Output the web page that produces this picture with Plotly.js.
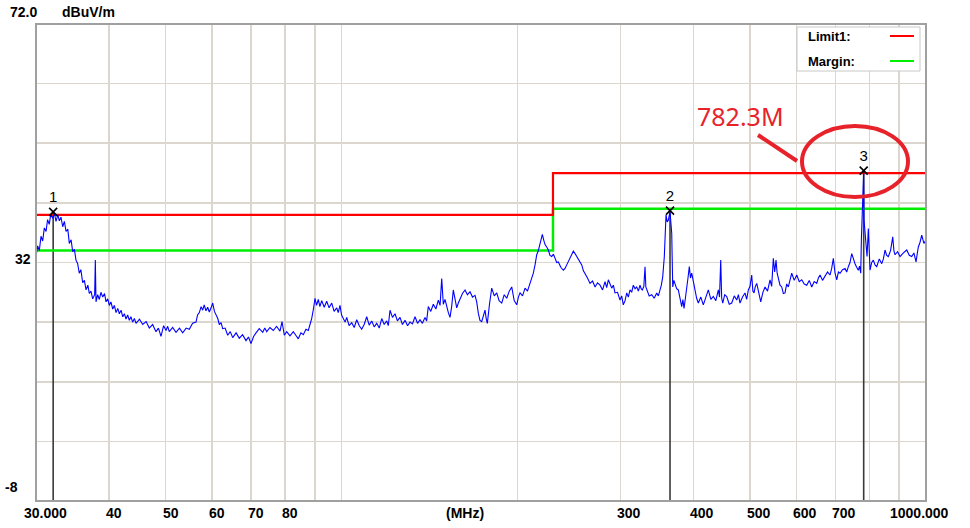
<!DOCTYPE html>
<html>
<head>
<meta charset="utf-8">
<script src="https://cdn.plot.ly/plotly-3.0.1.min.js"></script>
<style>
html,body{margin:0;padding:0;background:#fff;}
#chart{width:970px;height:528px;}
</style>
</head>
<body>
<div id="chart"></div>
<script>
// ---- data (MHz, dBuV/m) ----
const freq = [
30.00,30.20,30.39,30.60,30.80,31.00,31.21,31.40,31.61,31.80,
32.04,32.25,32.46,32.70,32.89,33.10,33.33,33.55,33.77,34.00,
34.21,34.45,34.67,34.90,35.12,35.35,35.58,35.80,36.06,36.30,
36.54,36.80,37.01,37.25,37.51,37.80,37.90,38.00,38.25,38.50,
38.75,39.02,39.30,39.53,39.80,40.05,40.30,40.59,40.85,41.12,
41.40,41.66,41.95,42.22,42.50,42.77,43.05,43.33,43.60,43.91,
44.20,44.49,45.10,45.68,46.30,46.88,47.50,48.13,48.60,49.09,
49.60,50.07,50.40,50.72,51.40,52.08,52.80,53.47,54.20,54.88,
55.60,56.35,56.70,57.09,57.50,57.86,58.20,58.61,59.00,59.38,
59.80,60.18,60.60,60.97,61.40,61.77,62.20,62.60,63.20,63.84,
64.50,65.11,66.00,66.83,67.70,68.62,69.30,69.98,70.70,71.38,
72.30,73.29,73.90,74.45,75.40,76.41,77.40,78.46,79.08,79.80,
80.56,81.60,82.68,83.50,84.32,85.20,86.00,86.90,87.71,88.30,
88.89,89.50,90.06,90.60,91.24,91.80,92.47,93.40,94.31,95.20,
96.19,97.10,98.10,98.70,99.38,100.0,100.69,101.40,102.04,103.00,
104.07,105.10,106.15,107.20,108.26,109.30,110.41,111.50,112.61,113.70,
114.85,116.00,117.13,118.30,119.46,120.20,121.03,122.20,123.44,124.60,
125.89,127.10,128.40,129.70,130.95,132.20,133.56,134.90,136.21,137.50,
138.92,139.80,140.74,142.10,143.54,145.00,146.40,147.40,148.37,149.31,
150.30,151.32,152.30,153.30,154.30,155.30,156.30,157.40,158.40,159.46,
161.00,162.64,164.20,165.87,167.50,169.17,170.30,171.38,172.50,173.69,
174.80,175.97,176.80,177.57,179.10,180.68,182.50,184.27,186.00,187.94,
189.80,191.68,193.60,195.50,197.40,199.39,200.70,202.00,204.00,206.02,
208.00,210.12,211.50,212.87,214.30,215.74,217.10,218.57,219.60,220.56,
221.70,222.92,224.40,225.83,227.30,228.87,230.40,231.87,233.40,234.91,
237.20,239.57,241.20,242.80,245.20,247.64,249.20,250.88,252.50,254.16,
255.90,257.59,259.30,260.96,263.50,266.15,268.80,271.46,274.10,276.86,
279.60,282.37,284.20,286.06,288.00,289.92,291.80,293.69,296.60,299.53,
301.50,303.44,305.50,307.54,309.50,311.57,313.60,315.64,317.80,319.90,
322.00,324.08,325.50,327.03,329.00,330.53,331.60,332.76,336.00,339.38,
342.70,346.13,348.40,350.66,352.50,354.41,356.65,359.05,360.70,362.32,
364.75,367.21,368.65,370.30,372.00,374.40,376.87,379.40,381.95,383.70,
385.43,387.50,389.56,391.50,393.56,395.40,397.30,400.00,402.50,405.10,
407.77,411.80,415.88,420.00,424.16,428.40,432.60,436.90,441.21,443.30,
445.40,447.10,448.93,452.50,456.07,460.60,465.16,469.80,474.40,477.50,
480.57,485.30,490.14,493.30,496.56,499.90,503.24,505.50,507.83,510.50,
513.27,517.30,521.44,525.90,530.35,535.60,540.89,544.40,547.98,550.90,
553.84,556.30,558.87,562.60,566.41,570.10,573.83,577.60,581.34,585.20,
589.18,595.00,600.93,606.90,612.88,619.00,625.07,631.30,637.50,643.80,
650.18,654.40,658.70,665.20,671.81,678.50,685.18,689.60,694.14,698.80,
703.50,708.10,712.71,719.80,726.89,731.60,736.38,741.30,746.32,751.20,
756.10,761.00,765.98,769.60,773.27,775.30,777.25,782.30,783.39,786.00,
788.65,792.70,796.78,799.40,802.12,807.40,812.64,818.10,823.60,831.80,
840.00,845.50,850.98,856.50,862.10,869.60,877.21,881.20,885.19,894.00,
902.80,914.80,926.90,936.10,945.37,953.40,961.51,965.90,970.28,976.80,
983.38,991.70,1000.0];
const level = [
33.0,34.8,34.0,36.4,35.6,37.8,37.2,39.2,38.4,40.1,
39.4,40.3,38.9,40.0,39.0,39.6,38.0,38.9,37.2,37.6,
35.2,35.8,33.8,34.2,32.4,31.8,30.2,30.8,28.6,29.0,
27.4,28.2,26.8,27.2,25.9,26.6,32.4,25.4,26.6,25.8,
27.0,26.2,26.8,25.4,25.9,24.8,25.4,24.2,24.8,23.6,
24.3,23.4,24.0,22.9,23.4,22.5,23.2,22.3,22.9,22.0,
22.6,21.8,22.5,21.6,22.1,21.0,21.6,20.4,21.0,19.6,
21.4,20.6,21.3,20.4,21.1,20.3,21.0,20.2,21.0,20.8,
21.8,22.0,23.2,23.6,24.6,24.0,24.9,23.9,24.5,23.7,
24.4,25.2,23.8,23.2,22.6,21.6,21.9,20.9,21.0,19.8,
20.4,19.4,20.2,19.3,19.9,18.9,19.5,18.4,19.6,20.2,
20.9,20.3,21.0,20.4,21.1,20.6,21.3,20.5,22.1,19.8,
20.4,19.7,20.4,19.8,19.2,20.2,19.9,20.8,20.6,21.6,
22.6,24.2,26.0,24.8,25.8,24.6,25.6,24.5,25.5,24.4,
25.2,23.8,24.4,23.6,24.8,23.2,22.6,22.0,22.8,21.4,
21.9,21.1,22.4,21.4,20.8,21.6,22.9,21.5,22.2,21.2,
21.8,21.0,22.6,21.6,22.2,21.4,24.0,22.8,23.4,22.2,
22.8,21.6,22.3,21.4,22.0,21.7,22.9,21.8,22.4,21.8,
22.8,22.2,24.6,23.8,25.0,24.2,25.7,24.8,29.3,25.0,
25.8,24.4,23.6,22.8,24.6,27.4,25.6,24.4,25.2,26.0,
26.8,27.4,26.6,27.1,26.2,26.5,25.4,23.5,22.3,22.1,
23.2,24.0,22.6,21.8,25.0,27.7,26.4,26.9,25.6,25.2,
26.6,26.0,27.2,27.9,25.6,24.9,26.2,26.9,26.4,27.7,
27.2,28.5,29.0,30.2,31.6,33.3,34.0,35.2,35.6,36.7,
35.8,35.0,34.6,34.1,33.2,33.0,33.4,32.7,32.0,32.1,
31.2,30.7,31.0,31.6,32.4,33.3,33.9,33.5,33.0,32.4,
32.0,31.6,30.6,30.2,29.4,28.5,28.9,27.9,28.6,28.2,
27.4,28.8,27.8,29.1,28.4,27.7,28.2,26.9,27.0,25.7,
26.4,24.9,25.6,26.9,26.2,27.4,27.0,28.2,27.6,27.9,
27.2,28.2,27.6,27.4,28.0,31.3,27.9,27.4,26.4,26.6,
26.0,26.9,26.4,27.4,28.2,29.6,33.0,40.0,38.8,39.1,
40.5,36.9,27.9,29.0,28.5,27.6,27.4,25.8,24.6,25.8,
24.3,26.0,27.4,29.4,31.3,29.4,30.2,28.6,27.4,26.0,
25.2,26.2,24.9,26.0,27.4,25.8,26.3,25.6,27.4,26.2,
32.4,26.0,25.2,26.6,26.3,25.0,25.2,26.4,25.7,26.6,
25.2,26.2,26.9,25.8,27.4,28.0,29.9,27.2,26.9,28.0,
28.5,27.0,25.4,27.0,27.9,27.2,29.1,28.0,32.7,30.4,
32.4,30.2,29.1,28.2,27.9,26.8,26.9,28.4,27.9,29.0,
30.2,29.0,29.9,28.8,29.1,28.4,28.2,29.0,27.9,28.8,
28.5,29.4,29.9,29.0,29.6,30.4,29.9,31.0,32.7,30.2,
29.1,30.4,30.2,30.8,31.0,30.4,31.3,32.0,33.5,32.4,
31.8,31.2,30.7,31.4,30.2,36.0,39.1,47.2,39.1,37.0,
35.8,33.0,37.7,33.6,30.7,32.0,32.4,31.6,31.3,32.6,
31.8,32.6,34.1,33.2,33.0,34.0,36.3,34.0,33.3,33.8,
33.0,33.6,34.1,33.2,33.0,33.6,32.1,33.4,34.6,35.4,
36.6,35.2,35.8];

const limitFreq   = [30, 230, 230, 1000];
const limitLevel  = [40, 40, 47, 47];
const marginLevel = [34, 34, 41, 41];

const markerFreq   = [32.1, 364.75, 782.3];
const markerLevel  = [40.5, 40.7, 47.4];
const markerLabels = ['1', '2', '3'];

const xTickVals  = [30, 40, 50, 60, 70, 80, 300, 400, 500, 600, 700, 1000];
const xTickText  = ['30.000','40','50','60','70','80','300','400','500','600','700','1000.000'];
const xGridVals  = [40,50,60,70,80,90,100,200,300,400,500,600,700,800,900];
const yTickVals  = [72, 32, -8];
const yTickText  = ['72.0', '32', '-8'];
const unitLabel  = 'dBuV/m';
const xUnitLabel = '(MHz)';
const noteText   = '782.3M';
const legendNames = ['Limit1:', 'Margin:'];

// ---- helpers (layout geometry) ----
const L = 36, R = 926, T = 24, B = 501;
const px = v => (v - L) / (R - L);
const py = v => (B - v) / (B - T);
const fx = f => Math.log10(f / 30) / Math.log10(1000 / 30);
const tickFont = {family: 'Liberation Sans, Arial, sans-serif', size: 14, color: '#000'};
const boldFont = Object.assign({}, tickFont, {weight: 'bold'});

const traces = [];
markerFreq.forEach((f, i) => {
  traces.push({x: [f, f], y: [-8, markerLevel[i]], mode: 'lines', type: 'scatter',
    line: {color: '#3a3a3a', width: 1.6}, hoverinfo: 'skip', showlegend: false});
});
traces.push({x: limitFreq, y: marginLevel, mode: 'lines', type: 'scatter',
  line: {color: '#00ee00', width: 2.5}, showlegend: false});
traces.push({x: limitFreq, y: limitLevel, mode: 'lines', type: 'scatter',
  line: {color: '#ff0000', width: 2.2}, showlegend: false});
traces.push({x: freq, y: level, mode: 'lines', type: 'scatter',
  line: {color: '#0000ff', width: 1.1}, showlegend: false});
traces.push({x: markerFreq, y: markerLevel, mode: 'markers+text', type: 'scatter',
  text: markerLabels, textposition: 'top center',
  textfont: {family: 'Liberation Sans, Arial, sans-serif', size: 15, color: '#000'},
  marker: {symbol: 'x-thin', size: 8, color: '#000', line: {color: '#000', width: 1.6}},
  showlegend: false});

const annotations = [];
xTickVals.forEach((v, i) => {
  let anchor = 'left', shift = -5;
  if (i === 0) { shift = -14; }
  if (i === xTickVals.length - 1) { anchor = 'right'; shift = 25; }
  annotations.push({xref: 'paper', yref: 'paper', x: fx(v), y: 0, xanchor: anchor, yanchor: 'top',
    xshift: shift, yshift: -2, text: xTickText[i], showarrow: false, font: boldFont});
});
annotations.push({xref: 'paper', yref: 'paper', x: px(465), y: 0, xanchor: 'center', yanchor: 'top',
  yshift: -2, text: xUnitLabel, showarrow: false, font: boldFont});
const yLabelX = [23, 23, 11];
const yLabelShift = [12, 4, 14];
yTickVals.forEach((v, i) => {
  annotations.push({xref: 'paper', yref: 'y', x: px(yLabelX[i]), y: v, xanchor: 'center', yanchor: 'middle',
    yshift: yLabelShift[i], text: yTickText[i], showarrow: false, font: boldFont});
});
annotations.push({xref: 'paper', yref: 'paper', x: px(60), y: py(12), xanchor: 'left', yanchor: 'middle',
  text: unitLabel, showarrow: false, font: boldFont});
const legFont = Object.assign({}, boldFont, {size: 13});
annotations.push({xref: 'paper', yref: 'paper', x: px(806), y: py(36), xanchor: 'left', yanchor: 'middle',
  text: legendNames[0], showarrow: false, font: legFont});
annotations.push({xref: 'paper', yref: 'paper', x: px(806), y: py(61), xanchor: 'left', yanchor: 'middle',
  text: legendNames[1], showarrow: false, font: legFont});
annotations.push({xref: 'paper', yref: 'paper', x: px(740.5), y: py(116), xanchor: 'center', yanchor: 'middle',
  text: noteText, showarrow: false, font: {family: 'Noto Sans, sans-serif', size: 25, color: '#e8222a'}});

const shapes = [
  {type: 'rect', xref: 'paper', yref: 'paper', x0: px(797), x1: px(920), y0: py(27), y1: py(71),
    fillcolor: '#fff', line: {color: '#c8c8c8', width: 1}, layer: 'above'},
  {type: 'line', xref: 'paper', yref: 'paper', x0: px(890), x1: px(914), y0: py(36), y1: py(36),
    line: {color: '#ff0000', width: 2}, layer: 'above'},
  {type: 'line', xref: 'paper', yref: 'paper', x0: px(890), x1: px(914), y0: py(61), y1: py(61),
    line: {color: '#00ee00', width: 2}, layer: 'above'},
  {type: 'circle', xref: 'paper', yref: 'paper', x0: px(802), x1: px(908), y0: py(197), y1: py(126),
    line: {color: '#e8222a', width: 4}},
  {type: 'line', xref: 'paper', yref: 'paper', x0: px(758), x1: px(797), y0: py(135), y1: py(161),
    line: {color: '#e8222a', width: 4}},
  {type: 'rect', xref: 'paper', yref: 'paper', x0: 0, x1: 1, y0: 0, y1: 1,
    line: {color: '#a0a0a0', width: 2}, layer: 'above'}
];

const layout = {
  width: 970, height: 528,
  margin: {l: L, r: 970 - R, t: T, b: 528 - B, pad: 0},
  paper_bgcolor: '#fff', plot_bgcolor: '#fff',
  showlegend: false,
  xaxis: {type: 'log', range: [Math.log10(30), Math.log10(1000)], tickmode: 'array', tickvals: xGridVals,
    showticklabels: false, ticks: '', showgrid: true, gridcolor: '#dbd7cf', gridwidth: 1.6,
    zeroline: false, showline: false, fixedrange: true},
  yaxis: {range: [-8, 72], tick0: -8, dtick: 10, showticklabels: false, ticks: '', showgrid: true,
    gridcolor: '#dbd7cf', gridwidth: 1.6, zeroline: false, showline: false, fixedrange: true},
  annotations: annotations,
  shapes: shapes
};

Plotly.newPlot('chart', traces, layout, {staticPlot: true, displayModeBar: false});
</script>
</body>
</html>
